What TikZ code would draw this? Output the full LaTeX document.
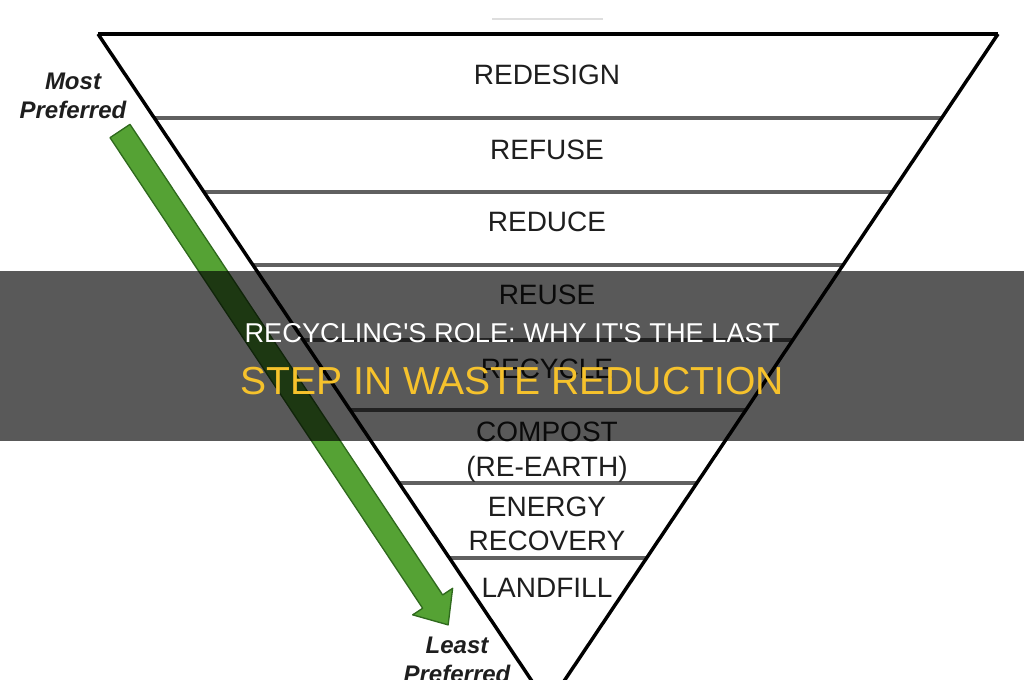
\documentclass[tikz,border=0pt]{standalone}
\usepackage{fontspec}
\setmainfont{Liberation Sans}
\usetikzlibrary{calc,positioning}
\definecolor{leaf}{HTML}{55A234}
\definecolor{leafdark}{HTML}{2F6A1D}
\definecolor{ink}{HTML}{1E1E1E}
\definecolor{rule}{HTML}{606060}
\definecolor{gold}{HTML}{F6C22C}
\tikzset{
  rim/.style={draw=black, line width=2.6pt, line join=miter},
  lid/.style={draw=black, line width=3.6pt},
  divider/.style={draw=rule, line width=2.4pt},
  tierlbl/.style={anchor=base, inner sep=0pt, text=ink, font=\fontsize{21}{24}\selectfont},
  preflbl/.style={anchor=base, inner sep=0pt, text=ink, font=\fontsize{18}{21}\selectfont\bfseries\itshape},
  garrow/.style={draw=leafdark, fill=leaf, line width=1pt, line join=round},
  band/.style={fill=black, fill opacity=0.65},
  ttl/.style={anchor=base, inner sep=0pt, font=\fontsize{20.4}{24}\selectfont}
}

\begin{document}
\begin{tikzpicture}[x=0.75pt, y=-0.75pt]
 \useasboundingbox (0,0) rectangle (1024,680);
 \clip (0,0) rectangle (1024,680);
 \coordinate (tl) at (98,34);
 \coordinate (tr) at (998,34);
 \coordinate (apex) at (548,705);
 \coordinate (mk1) at (492,19);
 \coordinate (mk2) at (603,19);
 % faint mark above the lid
 \draw[draw=black!13, line width=2.2pt] (mk1) -- (mk2);
 % tier dividers
 \foreach \t in {0.1252,0.2355,0.3443,0.4560,0.5604,0.6692,0.7809}
   \draw[divider] ($(tl)!\t!(apex)$) -- ($(tr)!\t!(apex)$);
 \draw[rim] (tl) -- (apex) -- (tr);
 \draw[lid] (tl) -- (tr);
 % tiers
 \node[tierlbl] (redesign) at (547,85) {REDESIGN};
 \node[tierlbl] (refuse) at (547,160) {REFUSE};
 \node[tierlbl] (reduce) at (547,232) {REDUCE};
 \node[tierlbl] (reuse) at (547,305) {REUSE};
 \node[tierlbl] (recycle) at (547,379) {RECYCLE};
 \node[tierlbl] (compost) at (547,442) {COMPOST};
 \node[tierlbl] (reearth) at (547,476) {(RE-EARTH)};
 \node[tierlbl] (energy) at (547,516) {ENERGY};
 \node[tierlbl] (recovery) at (547,550) {RECOVERY};
 \node[tierlbl] (landfill) at (547,597) {LANDFILL};
 % preference arrow
 \begin{scope}[shift={(120,131)}, rotate=-56.4]
  \draw[garrow] (0,-12) -- (565,-12) -- (565,-24) -- (593,0) -- (565,24) -- (565,12) -- (0,12) -- cycle;
 \end{scope}
 \node[preflbl] (most) at (73,90) {Most};
 \node[preflbl] (mostpref) at (73,119) {Preferred};
 \node[preflbl] (least) at (457,653) {Least};
 \node[preflbl] (leastpref) at (457,682) {Preferred};
 % title band
 \fill[band] (0,271) rectangle (1024,441);
 \node[ttl, text=white] (ttla) at (512,343) {RECYCLING\textquotesingle S ROLE: WHY IT\textquotesingle S THE LAST};
 \node[ttl, text=gold, font=\fontsize{29.3}{32}\selectfont] (ttlb) at (512,395) {STEP IN WASTE REDUCTION};
\end{tikzpicture}
\end{document}
